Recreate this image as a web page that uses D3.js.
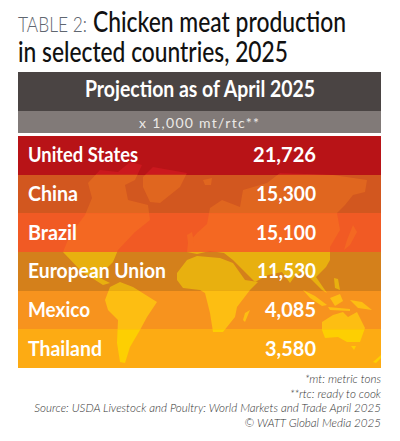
<!DOCTYPE html>
<html>
<head>
<meta charset="utf-8">
<script src="https://cdn.jsdelivr.net/npm/d3@7"></script>
<style>
  html, body { margin: 0; padding: 0; background: #fff; }
  svg { display: block; }
  text { font-family: Lato, "Open Sans", sans-serif; }
</style>
</head>
<body>
<div id="chart"></div>
<script>
var countries = ["United States", "China", "Brazil", "European Union", "Mexico", "Thailand"];
var production = [21726, 15300, 15100, 11530, 4085, 3580];
var rowColors = ["#b81317", "#d2571f", "#f15a24", "#d4801b", "#f7931e", "#fdab13"];
var landColors = ["#cb181e", "#e0661f", "#f46822", "#e8b00f", "#fdbe12", "#fdcf02"];
var labelWidths = [110, 50, 49, 138, 62, 74];
var valueWidths = [63, 60, 60, 59, 51, 51];
var footnotes = [
    "*mt: metric tons",
    "**rtc: ready to cook",
    "Source: USDA Livestock and Poultry: World Markets and Trade April 2025",
    "\u00a9 WATT Global Media 2025"
];

// rough outlines of the background world map
var continents = [
    // north america
    [[88, 183], [100, 170], [118, 172], [130, 162], [142, 165], [135, 180], [125, 185], [128, 200], [148, 205], [150, 220], [135, 232], [118, 250], [113, 262], [108, 267], [100, 270], [100, 278], [110, 283], [103, 285], [92, 278], [82, 272], [63, 252], [70, 235], [85, 215], [92, 198]],
    // greenland
    [[143, 177], [153, 167], [187, 173], [180, 187], [160, 203], [150, 202], [143, 187]],
    // south america
    [[105, 300], [110, 287], [120, 282], [133, 287], [157, 302], [147, 317], [140, 330], [130, 347], [125, 363], [120, 362], [117, 343], [118, 320], [108, 310]],
    // africa
    [[177, 273], [187, 260], [197, 256], [220, 258], [233, 263], [245, 280], [258, 282], [250, 290], [237, 307], [235, 317], [223, 332], [213, 332], [210, 313], [205, 293], [200, 290], [183, 288], [177, 280]],
    // madagascar
    [[250, 310], [245, 322], [243, 320], [245, 313]],
    // eurasia
    [[187, 252], [188, 243], [197, 233], [207, 224], [210, 208], [222, 200], [240, 207], [243, 190], [267, 183], [280, 173], [333, 175], [367, 180], [365, 192], [353, 195], [345, 205], [337, 213], [340, 230], [330, 247], [330, 260], [326, 267], [316, 277], [327, 293], [322, 290], [312, 280], [302, 272], [295, 276], [290, 283], [282, 272], [268, 275], [255, 282], [243, 270], [233, 260], [224, 253], [210, 251], [197, 254]],
    // iceland, britain
    [[203, 180], [212, 178], [211, 185], [205, 185]],
    [[187, 235], [192, 232], [194, 243], [188, 243]],
    // sumatra, borneo, java, new guinea, philippines
    [[303, 290], [315, 296], [327, 305], [322, 306], [310, 298]],
    [[330, 298], [340, 294], [343, 301], [335, 306]],
    [[328, 307], [350, 309], [350, 311], [330, 310]],
    [[350, 300], [362, 302], [372, 310], [358, 308]],
    [[334, 278], [338, 279], [340, 290], [335, 288]],
    // japan
    [[353, 225], [357, 232], [350, 245], [344, 250], [347, 240]],
    // australia
    [[322, 322], [333, 315], [343, 312], [348, 317], [357, 312], [365, 328], [360, 342], [347, 342], [338, 337], [325, 338], [322, 330]],
    // tasmania, new zealand
    [[351, 346], [356, 346], [354, 350]],
    [[373, 362], [381, 355], [381, 358], [376, 363]]
];

var width = 400;
var height = 441;
var tableLeft = 18;
var tableRight = 381;
var rowsTop = 136;
var rowsBottom = 368;

var svg = d3.select("#chart").append("svg")
    .attr("width", width)
    .attr("height", height);

/***************** Title **********************/

svg.append("text")
    .attr("x", 18).attr("y", 32)
    .attr("textLength", 69).attr("lengthAdjust", "spacingAndGlyphs")
    .style("font-size", "21px").style("font-weight", 300).style("fill", "#5f6670")
    .text("TABLE 2:");

svg.append("text")
    .attr("x", 93).attr("y", 32)
    .attr("textLength", 253).attr("lengthAdjust", "spacingAndGlyphs")
    .style("font-size", "28px").style("font-weight", 500).style("fill", "#111")
    .text("Chicken meat production");

svg.append("text")
    .attr("x", 18).attr("y", 62)
    .attr("textLength", 270).attr("lengthAdjust", "spacingAndGlyphs")
    .style("font-size", "28px").style("font-weight", 500).style("fill", "#111")
    .text("in selected countries, 2025");

/***************** Header **********************/

svg.append("rect")
    .attr("x", tableLeft).attr("y", 72)
    .attr("width", tableRight - tableLeft).attr("height", 39)
    .style("fill", "#4a4443");

svg.append("rect")
    .attr("x", tableLeft).attr("y", 111)
    .attr("width", tableRight - tableLeft).attr("height", 22)
    .style("fill", "#817a78");

svg.append("text")
    .attr("x", 85).attr("y", 97)
    .attr("textLength", 230).attr("lengthAdjust", "spacingAndGlyphs")
    .style("font-size", "23px").style("font-weight", 700).style("fill", "#fff")
    .text("Projection as of April 2025");

svg.append("text")
    .attr("x", 139).attr("y", 128)
    .attr("textLength", 120).attr("lengthAdjust", "spacing")
    .style("font-size", "14px").style("fill", "#ece9e6")
    .text("x 1,000 mt/rtc**");

/***************** Rows **********************/

var y = d3.scaleBand()
    .domain(countries)
    .range([rowsTop, rowsBottom]);

var defs = svg.append("defs");

defs.selectAll("clipPath")
    .data(countries)
    .enter()
    .append("clipPath")
    .attr("id", function (d, i) { return "row-clip-" + i; })
    .append("rect")
    .attr("x", tableLeft)
    .attr("y", function (d) { return y(d); })
    .attr("width", tableRight - tableLeft)
    .attr("height", y.bandwidth());

var rows = svg.selectAll(".row")
    .data(countries)
    .enter()
    .append("g")
    .attr("class", "row");

rows.append("rect")
    .attr("x", tableLeft)
    .attr("y", function (d) { return y(d); })
    .attr("width", tableRight - tableLeft)
    .attr("height", y.bandwidth())
    .attr("shape-rendering", "crispEdges")
    .style("fill", function (d, i) { return rowColors[i]; });

var outline = d3.line().curve(d3.curveLinearClosed);

rows.append("g")
    .attr("clip-path", function (d, i) { return "url(#row-clip-" + i + ")"; })
    .style("fill", function (d, i) { return landColors[i]; })
    .selectAll("path")
    .data(continents)
    .enter()
    .append("path")
    .attr("d", outline);

rows.append("text")
    .attr("x", 28)
    .attr("y", function (d) { return y(d) + y.bandwidth() / 2 + 7; })
    .attr("textLength", function (d, i) { return labelWidths[i]; })
    .attr("lengthAdjust", "spacingAndGlyphs")
    .style("font-size", "21px").style("font-weight", 700).style("fill", "#fff")
    .text(function (d) { return d; });

rows.append("text")
    .attr("x", function (d, i) { return 316 - valueWidths[i]; })
    .attr("y", function (d) { return y(d) + y.bandwidth() / 2 + 7; })
    .attr("textLength", function (d, i) { return valueWidths[i]; })
    .attr("lengthAdjust", "spacingAndGlyphs")
    .style("font-size", "21px").style("font-weight", 700).style("fill", "#fff")
    .text(function (d, i) { return d3.format(",")(production[i]); });

/***************** Footnotes **********************/

var noteY = d3.scalePoint()
    .domain(footnotes)
    .range([383, 427]);

svg.selectAll(".note")
    .data(footnotes)
    .enter()
    .append("text")
    .attr("class", "note")
    .attr("x", 381)
    .attr("y", function (d) { return noteY(d); })
    .attr("text-anchor", "end")
    .style("font-size", "11.6px").style("font-style", "italic").style("font-weight", 300).style("fill", "#333")
    .text(function (d) { return d; });
</script>
</body>
</html>
